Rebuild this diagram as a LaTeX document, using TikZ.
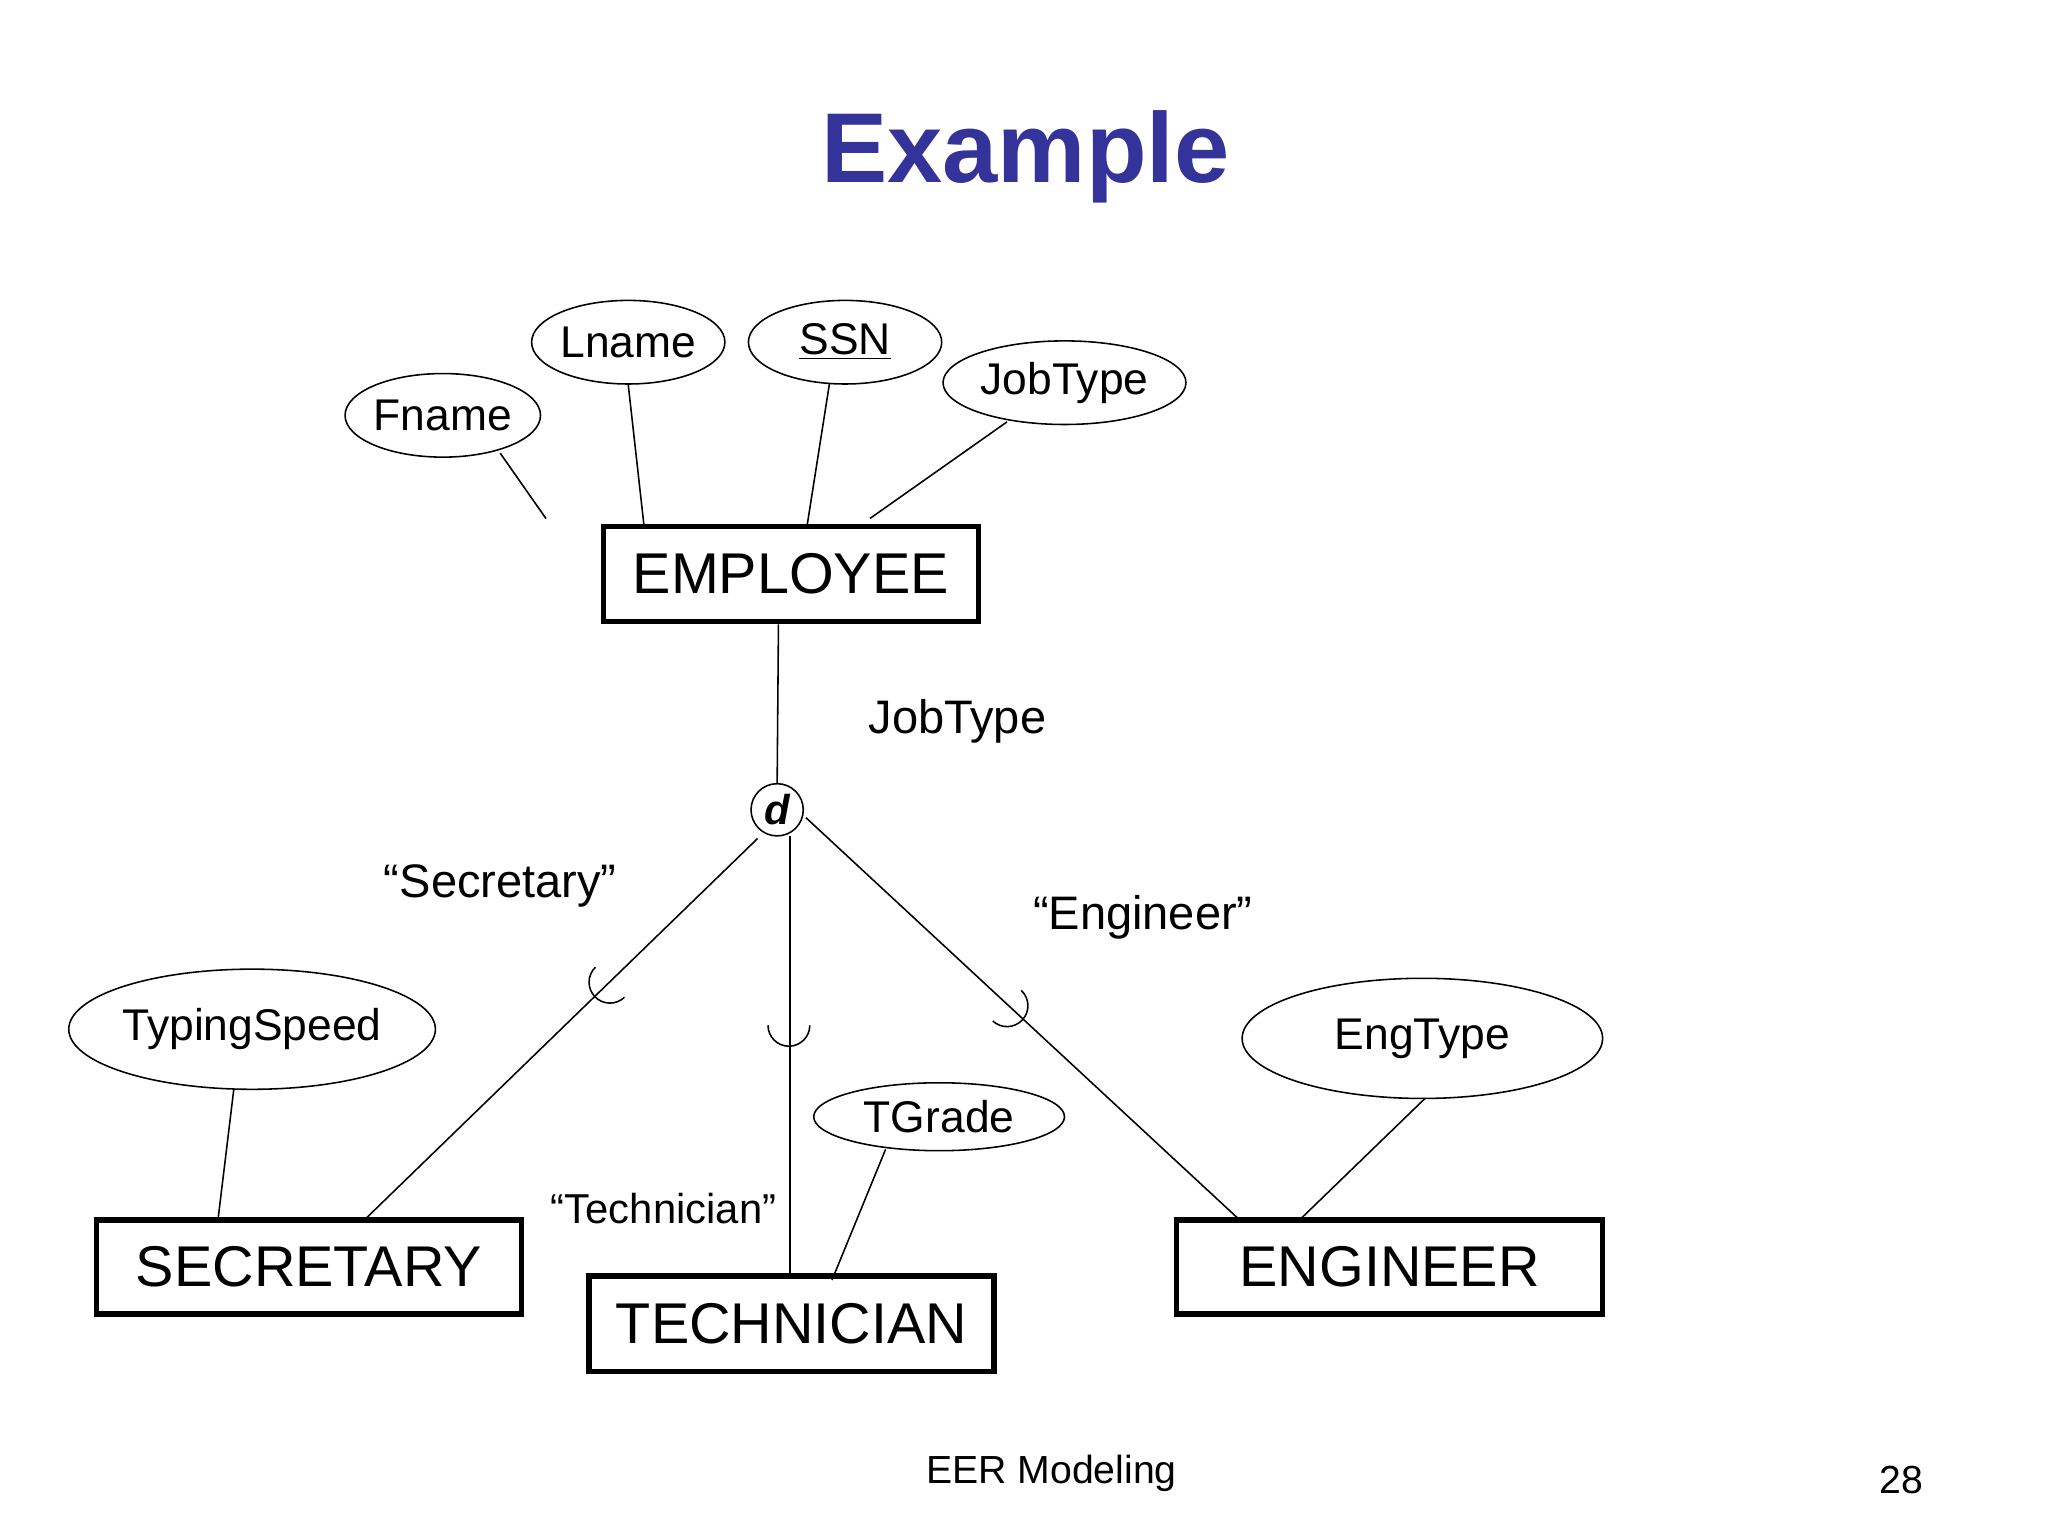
\documentclass[tikz,border=0pt]{standalone}
\usepackage{fontspec}
\setmainfont{Liberation Sans}
\usetikzlibrary{shapes.geometric}
\definecolor{titleblue}{RGB}{51,51,153}
\begin{document}
\begin{tikzpicture}[x=0.5pt,y=-0.5pt,
  attr/.style={draw,ellipse,line width=0.6pt,inner sep=0pt,font=\fontsize{17}{20}\selectfont},
  ent/.style={draw,line width=2pt,rectangle,inner sep=0pt,font=\fontsize{22}{26}\selectfont},
  lbl/.style={font=\fontsize{18}{22}\selectfont},
  ln/.style={line width=0.6pt}]
\useasboundingbox (0,0) rectangle (1568,1176);
\node[font=\fontsize{38}{44}\selectfont\bfseries,text=titleblue] (title) at (785,120) {Example};
% attributes
\node[attr,minimum width=74pt,minimum height=32pt] (fname) at (339,318) {Fname};
\node[attr,minimum width=74pt,minimum height=32pt] (lname) at (481,262) {Lname};
\node[attr,minimum width=74pt,minimum height=32pt] (ssn) at (647,262) {\underline{SSN}};
\node[attr,minimum width=93pt,minimum height=32pt] (jobtype) at (815,293) {JobType};
\node[attr,minimum width=138pt,minimum height=46pt] (typing) at (193,788) {TypingSpeed};
\node[attr,minimum width=96pt,minimum height=26pt] (tgrade) at (719,855) {TGrade};
\node[attr,minimum width=138pt,minimum height=46pt] (engtype) at (1089,795) {EngType};
% entities
\node[ent,minimum width=143.5pt,minimum height=36.5pt] (emp) at (605.5,439.5) {EMPLOYEE};
\node[ent,minimum width=162.5pt,minimum height=36pt] (sec) at (236.5,970) {SECRETARY};
\node[ent,minimum width=155pt,minimum height=36.5pt] (tech) at (606,1013.5) {TECHNICIAN};
\node[ent,minimum width=163pt,minimum height=36pt] (eng) at (1064,970) {ENGINEER};
% d circle
\node[draw,circle,ln,minimum size=20pt,inner sep=0pt,font=\fontsize{16}{18}\selectfont\bfseries\itshape] (d) at (595,620) {d};
% labels
\node[lbl] (jt) at (733,552) {JobType};
\node[lbl] (ls) at (383,678) {“Secretary”};
\node[lbl] (le) at (875,702) {“Engineer”};
\node[font=\fontsize{16}{20}\selectfont] (lt) at (508,925) {“Technician”};
\node[font=\fontsize{15}{18}\selectfont] (foot) at (805,1128) {EER Modeling};
\node[font=\fontsize{15}{18}\selectfont] (page) at (1456,1133) {28};
% attribute lines
\coordinate (fe) at (418,397);
\draw[ln] (383,347) -- (fe);
\draw[ln] (lname.south) -- (493,402);
\draw[ln] (635,294) -- (618,402);
\draw[ln] (771,323) -- (666,397);
\draw[ln] (179,834) -- (167,933);
\draw[ln] (678,880) -- (637,980);
\draw[ln] (1091,841) -- (996,933);
% specialization
\draw[ln] (596,478) -- (d.north);
\draw[ln] (580,642) -- (280,933);
\draw[ln] (605,640) -- (605,976);
\draw[ln] (617,626) -- (948,933);
\draw[ln] ([shift={(46:16)}]467,752) arc[start angle=46,end angle=226,radius=16];
\draw[ln] ([shift={(0:16)}]604,785) arc[start angle=0,end angle=180,radius=16];
\draw[ln] ([shift={(-47:16)}]771,770) arc[start angle=-47,end angle=133,radius=16];
\end{tikzpicture}
\end{document}
